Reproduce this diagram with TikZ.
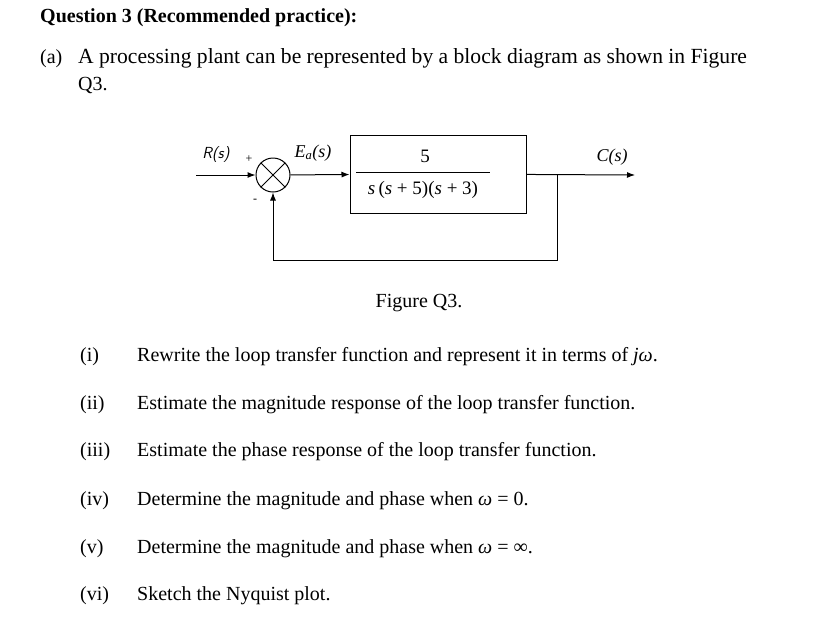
\documentclass[tikz,border=0pt]{standalone}
\usepackage{fontspec}
\setmainfont{Liberation Serif}
\usetikzlibrary{arrows.meta}
\begin{document}
\begin{tikzpicture}[x=1pt,y=-1pt,
  txt/.style={anchor=base west,inner sep=0pt,font=\fontsize{20}{23}\selectfont},
  lbl/.style={inner sep=0pt,font=\fontsize{18}{21}\selectfont\itshape},
  ln/.style={line width=1pt},
  arr/.style={ln,-{Latex[length=8pt,width=6pt]}}]
\useasboundingbox (0,0) rectangle (825,619);
\node[txt,font=\fontsize{20}{23}\selectfont\bfseries] (title) at (40,22) {Question 3 (Recommended practice):};
\node[txt] (a) at (40,63) {(a)};
\node[txt,font=\fontsize{21.6}{23}\selectfont] (ta) at (78,63) {A processing plant can be represented by a block diagram as shown in Figure};
\node[txt] (tb) at (78,90) {Q3.};
% diagram
\node[draw,circle,ln,minimum size=34pt,inner sep=0pt] (sum) at (273,175) {};
\draw[ln] (sum.north west) -- (sum.south east) (sum.north east) -- (sum.south west);
\node[draw,ln,minimum width=176pt,minimum height=78pt,inner sep=0pt] (g) at (438,174) {};
\node[inner sep=0pt,font=\fontsize{19}{22}\selectfont] (num) at (425,156) {5};
\draw[line width=0.7pt] (356,172) -- (490,172);
\node[inner sep=0pt,font=\fontsize{19}{22}\selectfont] (den) at (423,190) {\textit{s}\,(\textit{s} + 5)(\textit{s} + 3)};
\coordinate (in) at (196,175);
\coordinate (br) at (557,175);
\coordinate (out) at (635,175);
\coordinate (c1) at (557,260);
\coordinate (c2) at (273,260);
\draw[arr] (in) -- (sum);
\draw[arr] (sum) -- (g);
\draw[arr] (g) -- (out);
\draw[arr] (br) -- (c1) -- (c2) -- (sum);
\node[lbl,font=\fontsize{16}{19}\selectfont\sffamily\itshape] (rs) at (216,155) {R(s)};
\node[inner sep=0pt,font=\fontsize{12}{13}\selectfont] (plus) at (249,159) {+};
\node[inner sep=0pt,font=\fontsize{12}{13}\selectfont] (minus) at (255,201) {-};
\node[lbl] (ea) at (313,153) {E\textsubscript{a}(s)};
\node[lbl] (cs) at (612,157) {C(s)};
\node[txt,anchor=base] (fig) at (419,307) {Figure Q3.};
% items
\node[txt] (i1) at (80,361) {(i)};
\node[txt] (t1) at (137,361) {Rewrite the loop transfer function and represent it in terms of \textit{jω}.};
\node[txt] (i2) at (80,409) {(ii)};
\node[txt] (t2) at (137,409) {Estimate the magnitude response of the loop transfer function.};
\node[txt] (i3) at (80,456) {(iii)};
\node[txt] (t3) at (137,456) {Estimate the phase response of the loop transfer function.};
\node[txt] (i4) at (80,505) {(iv)};
\node[txt] (t4) at (137,505) {Determine the magnitude and phase when \textit{ω} = 0.};
\node[txt] (i5) at (80,553) {(v)};
\node[txt] (t5) at (137,553) {Determine the magnitude and phase when \textit{ω} = ∞.};
\node[txt] (i6) at (80,600) {(vi)};
\node[txt] (t6) at (137,600) {Sketch the Nyquist plot.};
\end{tikzpicture}
\end{document}
